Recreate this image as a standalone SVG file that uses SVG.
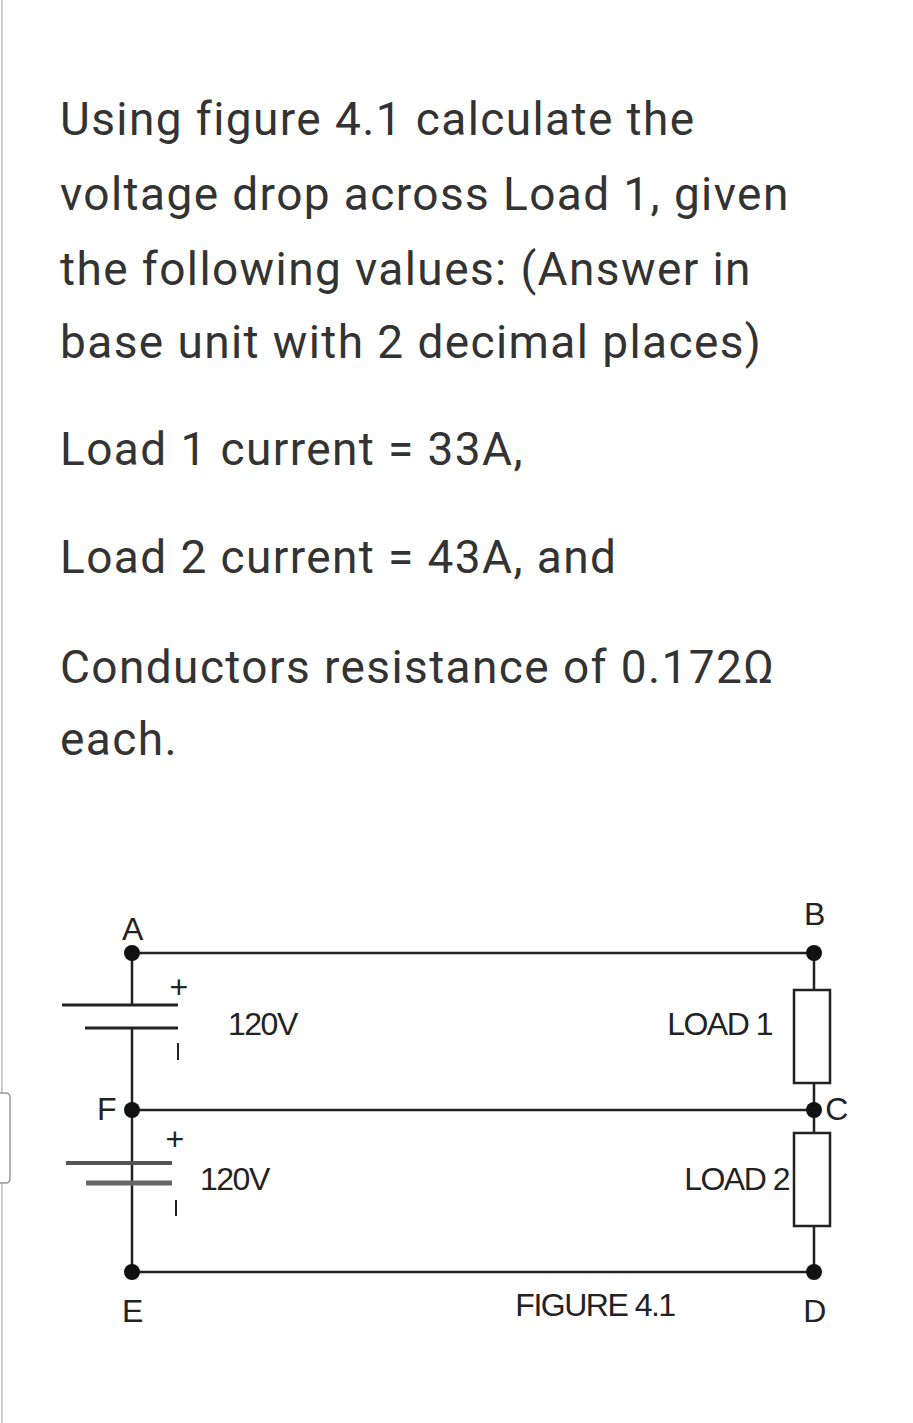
<svg xmlns="http://www.w3.org/2000/svg" width="913" height="1423" viewBox="0 0 913 1423">
<style>
.q{font-family:Roboto,"Liberation Sans",sans-serif;font-size:46px;fill:#333;letter-spacing:1.4px}
.l{font-family:"Liberation Sans",Arial,sans-serif;font-size:32px;fill:#222;letter-spacing:-1.5px}
.w{stroke:#222;stroke-width:2.5;fill:none}
.p{stroke:#222;stroke-width:3}
.r{stroke:#222;stroke-width:2.5;fill:#fff}
</style>
<rect width="913" height="1423" fill="#fff"/>
<line x1="2" y1="0" x2="2" y2="1423" stroke="#bbb" stroke-width="1.5"/>
<path d="M0 1093 H6 Q10 1093 10 1098 V1178 Q10 1183 6 1183 H0" fill="#fff" stroke="#999" stroke-width="1.5"/>
<g id="question">
<text class="q" x="60" y="135">Using figure 4.1 calculate the</text>
<text class="q" x="60" y="210">voltage drop across Load 1, given</text>
<text class="q" x="60" y="285">the following values: (Answer in</text>
<text class="q" x="60" y="358">base unit with 2 decimal places)</text>
<text class="q" x="60" y="465">Load 1 current = 33A,</text>
<text class="q" x="60" y="573">Load 2 current = 43A, and</text>
<text class="q" x="60" y="683">Conductors resistance of 0.172Ω</text>
<text class="q" x="60" y="755">each.</text>
</g>
<g id="connectors">
<path class="w" d="M132 953 H814 M132 1110 H814 M132 1272 H814"/>
<path class="w" d="M132 953 V1005 M132 1028 V1110 M132 1163 V1183 M132 1183 V1272"/>
<path class="w" d="M132 1110 V1163"/>
<path class="w" d="M814 953 V990 M814 1083 V1133 M814 1226 V1272"/>
</g>
<g id="battery1">
<line class="p" x1="62" y1="1005" x2="178" y2="1005"/>
<line class="p" x1="85" y1="1028" x2="178" y2="1028"/>
<text class="l" x="178" y="998" text-anchor="middle" font-size="26">+</text>
<line x1="178" y1="1043" x2="178" y2="1060" stroke="#222" stroke-width="2"/>
<text class="l" x="228" y="1035">120V</text>
</g>
<g id="battery2">
<line x1="66" y1="1163" x2="172" y2="1163" stroke="#555" stroke-width="4"/>
<line x1="86" y1="1183" x2="172" y2="1183" stroke="#666" stroke-width="5"/>
<text class="l" x="174" y="1150" text-anchor="middle" font-size="26">+</text>
<line x1="176" y1="1200" x2="176" y2="1216" stroke="#222" stroke-width="2"/>
<text class="l" x="200" y="1190">120V</text>
</g>
<g id="load1"><rect class="r" x="794" y="990" width="36" height="93"/><text class="l" x="772" y="1035" text-anchor="end">LOAD 1</text></g>
<g id="load2"><rect class="r" x="794" y="1133" width="36" height="93"/><text class="l" x="789" y="1190" text-anchor="end">LOAD 2</text></g>
<g id="nodeA"><circle cx="132" cy="953" r="8" fill="#111"/><text class="l" x="132" y="940" text-anchor="middle">A</text></g>
<g id="nodeB"><circle cx="814" cy="953" r="8" fill="#111"/><text class="l" x="814" y="925" text-anchor="middle">B</text></g>
<g id="nodeF"><circle cx="132" cy="1110" r="8" fill="#111"/><text class="l" x="106" y="1120" text-anchor="middle">F</text></g>
<g id="nodeC"><circle cx="814" cy="1110" r="8" fill="#111"/><text class="l" x="836" y="1120" text-anchor="middle">C</text></g>
<g id="nodeE"><circle cx="132" cy="1272" r="8" fill="#111"/><text class="l" x="132" y="1322" text-anchor="middle">E</text></g>
<g id="nodeD"><circle cx="814" cy="1272" r="8" fill="#111"/><text class="l" x="814" y="1322" text-anchor="middle">D</text></g>
<text class="l" x="595" y="1316" text-anchor="middle" font-size="34">FIGURE 4.1</text>
</svg>
